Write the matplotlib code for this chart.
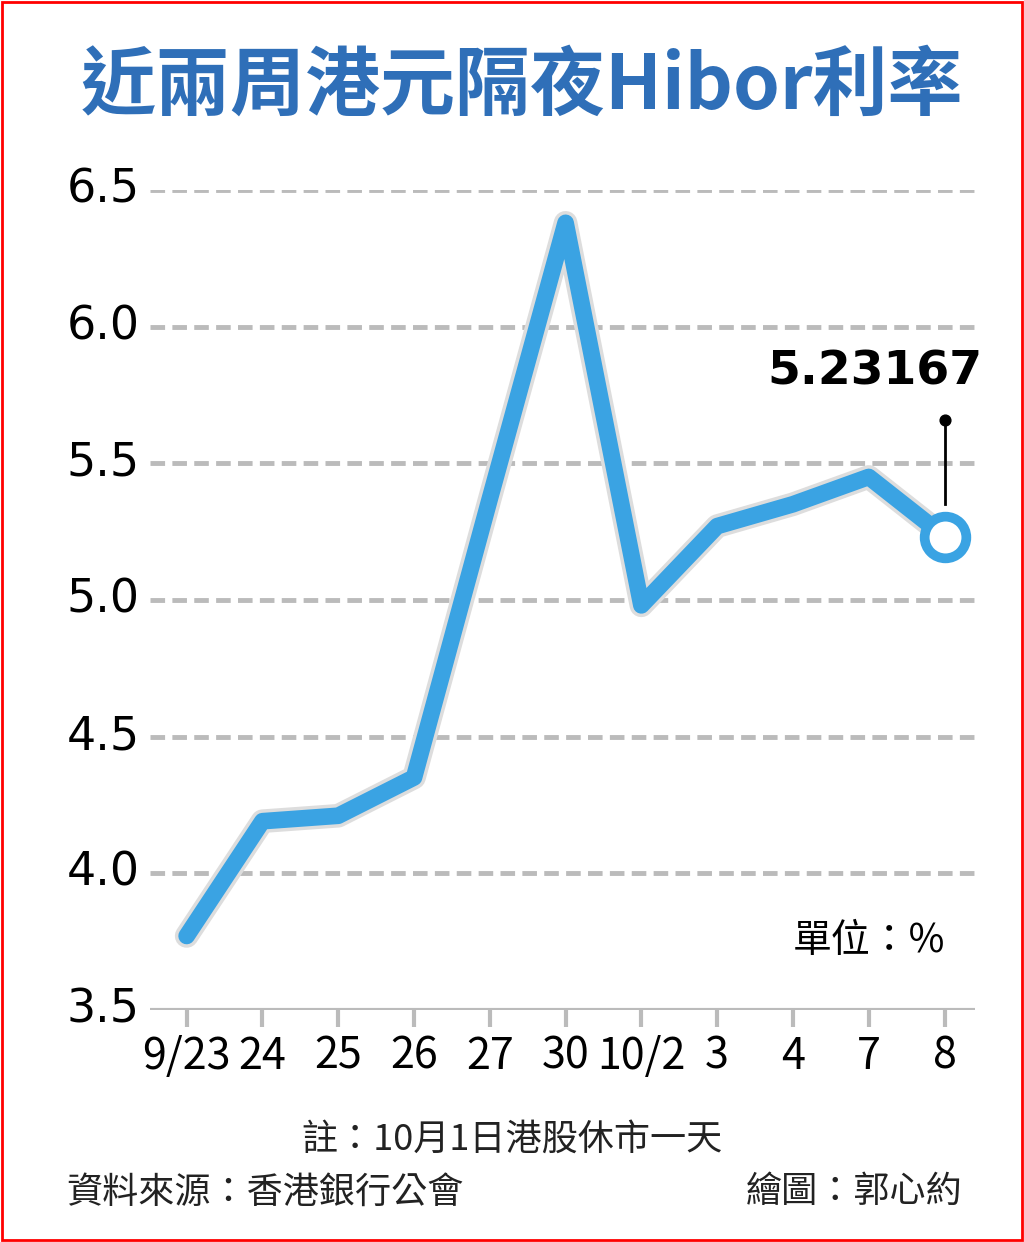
import matplotlib.pyplot as plt
import matplotlib.patheffects as pe
from matplotlib.patches import Rectangle

plt.rcParams['font.family'] = ['Noto Sans CJK TC', 'DejaVu Sans']

dates = ['9/23', '24', '25', '26', '27', '30', '10/2', '3', '4', '7', '8']
rates = [3.77, 4.19, 4.21, 4.35, 5.37, 6.38, 4.98, 5.27, 5.35, 5.45, 5.23167]
yticks = [3.5, 4.0, 4.5, 5.0, 5.5, 6.0, 6.5]

BLUE = '#3aa3e3'
TITLE_BLUE = '#2f6fb8'

fig = plt.figure(figsize=(10.24, 12.42), dpi=100)
fig.patches.append(Rectangle((0.002, 0.002), 0.996, 0.996, transform=fig.transFigure,
                             fill=False, edgecolor='red', linewidth=2))

ax = fig.add_axes([0.146, 0.187, 0.806, 0.66])
x = list(range(len(dates)))
ax.plot(x, rates, color=BLUE, linewidth=12, solid_joinstyle='round', solid_capstyle='round',
        path_effects=[pe.Stroke(linewidth=17, foreground='#dddddd'), pe.Normal()], zorder=3)
ax.scatter([x[-1]], [rates[-1]], s=900, facecolor='white', edgecolor=BLUE, linewidth=7, zorder=4)
ax.plot([x[-1], x[-1]], [rates[-1] + 0.12, 5.66], color='black', linewidth=2, zorder=2)
ax.scatter([x[-1]], [5.66], s=60, color='black', zorder=2)
ax.text(x[-1] + 0.5, 5.75, f'{rates[-1]:.5f}', fontsize=34, fontweight='bold',
        ha='right', va='bottom', family='DejaVu Sans')

ax.set_xlim(-0.49, 10.4)
ax.set_ylim(3.5, 6.5)
ax.set_yticks([])
for v in yticks:
    if v > 3.5:
        ax.axhline(v, color='#bbbbbb', linewidth=3.5, linestyle=(0, (3, 1.5)), zorder=1)
    ax.text(-0.62, v, f'{v:.1f}', fontsize=33, ha='right', va='center', family='DejaVu Sans')
ax.axhline(3.5, color='#bbbbbb', linewidth=3, zorder=1)
ax.set_xticks(x)
ax.set_xticklabels(dates)
ax.tick_params(axis='x', length=12, width=3, color='#bbbbbb', labelsize=31, pad=6)
for lbl in ax.get_xticklabels():
    lbl.set_fontstretch('condensed')
for s in ax.spines.values():
    s.set_visible(False)

ax.text(9.0, 3.75, '單位：%', fontsize=28, ha='center', va='center')

fig.text(0.51, 0.93, '近兩周港元隔夜Hibor利率', fontsize=54, fontweight='bold',
         color=TITLE_BLUE, ha='center', va='center')
fig.text(0.5, 0.082, '註：10月1日港股休市一天', fontsize=26, ha='center', va='center', color='#222222')
fig.text(0.065, 0.04, '資料來源：香港銀行公會', fontsize=26, ha='left', va='center', color='#222222')
fig.text(0.94, 0.04, '繪圖：郭心約', fontsize=26, ha='right', va='center', color='#222222')

fig.savefig('out.png', dpi=100)
